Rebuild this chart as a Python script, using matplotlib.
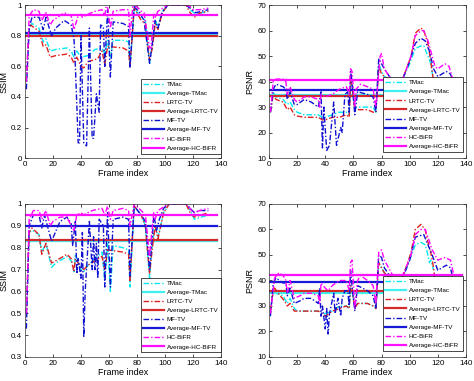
import matplotlib.pyplot as plt

plt.rcParams['font.family'] = ['Liberation Sans', 'DejaVu Sans']

# ---- panel (a): SSIM, top left ----
a_tmac_x = [1, 3, 5, 10, 13, 15, 18, 22, 30, 33, 35, 37, 40, 45, 50, 55, 57, 59, 61, 63, 70, 74, 75, 78, 83, 86, 89, 91, 93, 95, 98, 102, 115, 118, 122, 131]
a_tmac_y = [0.5, 0.85, 0.88, 0.85, 0.76, 0.78, 0.70, 0.71, 0.72, 0.70, 0.66, 0.70, 0.66, 0.67, 0.71, 0.72, 0.68, 0.77, 0.66, 0.77, 0.77, 0.76, 0.60, 0.98, 0.92, 0.90, 0.62, 0.75, 0.90, 0.86, 0.96, 1.0, 1.0, 0.97, 0.94, 0.96]
a_lrtc_x = [1, 3, 4, 10, 13, 15, 18, 22, 30, 33, 35, 37, 40, 42, 45, 52, 55, 57, 59, 70, 74, 75, 78, 83, 86, 89, 91, 93, 95, 98, 102, 115, 118, 121, 125, 131]
a_lrtc_y = [0.5, 0.85, 0.87, 0.83, 0.73, 0.74, 0.66, 0.67, 0.68, 0.66, 0.62, 0.66, 0.60, 0.59, 0.63, 0.65, 0.70, 0.61, 0.73, 0.72, 0.70, 0.60, 0.98, 0.90, 0.88, 0.64, 0.72, 0.88, 0.84, 0.95, 1.0, 1.0, 0.95, 0.92, 0.95, 0.96]
a_mf_x = [1, 3, 5, 10, 13, 15, 19, 22, 28, 33, 35, 36, 38, 39, 40, 42, 44, 46, 48, 49, 51, 53, 54, 56, 57, 59, 61, 63, 70, 74, 75, 78, 82, 85, 89, 91, 93, 95, 98, 102, 115, 118, 122, 126, 131]
a_mf_y = [0.45, 0.85, 0.92, 0.92, 0.84, 0.92, 0.80, 0.85, 0.90, 0.87, 0.78, 0.60, 0.10, 0.10, 0.80, 0.10, 0.08, 0.85, 0.13, 0.13, 0.42, 0.30, 0.87, 0.86, 0.60, 0.97, 0.53, 0.89, 0.88, 0.86, 0.59, 0.99, 0.95, 0.90, 0.62, 0.75, 0.90, 0.85, 0.95, 1.0, 1.0, 0.98, 0.95, 0.96, 0.97]
a_hc_x = [1, 3, 6, 10, 12, 15, 18, 20, 28, 33, 35, 38, 40, 41, 45, 50, 55, 57, 58, 59, 61, 63, 70, 74, 75, 77, 80, 83, 85, 89, 90, 92, 93, 95, 100, 102, 115, 118, 120, 125, 131]
a_hc_y = [0.5, 0.93, 0.97, 0.96, 0.90, 0.95, 0.87, 0.90, 0.95, 0.93, 0.84, 0.93, 0.94, 0.92, 0.94, 0.96, 0.97, 0.93, 0.99, 0.99, 0.85, 0.96, 0.97, 0.97, 0.80, 0.99, 0.99, 0.96, 0.95, 0.72, 0.72, 0.94, 0.92, 0.96, 0.99, 1.0, 1.0, 0.99, 0.97, 0.97, 0.98]
a_avg = [0.81, 0.795, 0.82, 0.935]  # TMac, LRTC-TV, MF-TV, HC-BiFR

# ---- panel (b): PSNR, top right ----
b_tmac_x = [1, 3, 5, 10, 13, 15, 18, 20, 25, 30, 35, 38, 40, 45, 50, 55, 57, 58, 59, 61, 63, 70, 74, 76, 78, 80, 82, 88, 95, 100, 104, 108, 110, 113, 115, 117]
b_tmac_y = [28, 36, 34, 33, 31, 32, 29, 28, 27, 27, 27, 26, 26, 27, 28, 28, 27, 42, 38, 30, 30, 30, 30, 28, 47, 44, 42, 40, 41, 47, 53, 54, 54, 50, 47, 40]
b_lrtc_x = [1, 3, 5, 10, 13, 15, 18, 20, 25, 30, 35, 38, 40, 45, 50, 55, 57, 58, 59, 61, 65, 70, 74, 76, 78, 80, 82, 88, 95, 101, 104, 108, 110, 113, 115, 117]
b_lrtc_y = [28, 35, 33, 32, 29, 30, 27, 26.5, 26, 26, 26, 25, 25, 26, 26, 27, 26, 40, 38, 29, 29, 29, 28, 28, 46, 43, 42, 40, 41, 50, 59, 61, 60, 55, 48, 40]
b_mf_x = [1, 3, 5, 10, 12, 13, 15, 18, 20, 25, 30, 35, 37, 38, 39, 41, 43, 46, 48, 51, 52, 54, 56, 57, 58, 59, 61, 63, 70, 74, 76, 78, 80, 82, 88, 95, 100, 104, 108, 111, 114, 117, 120, 126, 129, 131]
b_mf_y = [28, 37, 39, 38, 37, 33, 36, 31, 31, 33, 32, 30, 36, 14, 30, 13, 15, 32, 15, 22, 20, 35, 36, 28, 44, 40, 27, 36, 35, 34, 28, 49, 47, 45, 40, 41, 48, 55, 57, 56, 52, 45, 42, 44, 43, 40]
b_hc_x = [1, 3, 5, 10, 12, 13, 15, 18, 20, 25, 30, 35, 36, 37, 40, 45, 50, 55, 57, 58, 59, 61, 62, 65, 70, 74, 76, 79, 80, 82, 88, 95, 101, 104, 108, 110, 113, 115, 118, 120, 125, 128, 131]
b_hc_y = [28, 40, 41, 41, 40, 35, 38, 33, 32, 34, 34, 33, 30, 35, 34, 35, 37, 38, 35, 45, 44, 30, 37, 39, 38, 37, 30, 50, 51, 45, 40, 41, 50, 58, 60, 60, 56, 52, 46, 45, 47, 46, 40]
b_avg = [34.6, 34.5, 36.7, 40.8]

# ---- panel (c): SSIM, bottom left ----
c_tmac_x = [1, 3, 5, 10, 12, 15, 19, 22, 30, 33, 35, 36, 40, 42, 45, 50, 55, 57, 59, 61, 63, 70, 74, 75, 78, 83, 86, 89, 91, 93, 95, 99, 103, 115, 118, 121, 131]
c_tmac_y = [0.5, 0.87, 0.88, 0.86, 0.78, 0.82, 0.71, 0.73, 0.76, 0.74, 0.69, 0.77, 0.70, 0.69, 0.72, 0.75, 0.78, 0.65, 0.82, 0.60, 0.81, 0.80, 0.79, 0.62, 0.99, 0.95, 0.90, 0.66, 0.83, 0.90, 0.85, 0.96, 1.0, 1.0, 0.97, 0.93, 0.95]
c_lrtc_x = [1, 3, 5, 10, 12, 15, 19, 22, 30, 33, 35, 36, 40, 42, 45, 50, 55, 57, 59, 70, 74, 75, 78, 83, 86, 89, 91, 93, 95, 99, 103, 115, 118, 121, 131]
c_lrtc_y = [0.5, 0.87, 0.89, 0.86, 0.77, 0.82, 0.73, 0.74, 0.77, 0.75, 0.69, 0.75, 0.71, 0.70, 0.72, 0.74, 0.76, 0.70, 0.79, 0.78, 0.77, 0.65, 0.99, 0.95, 0.90, 0.68, 0.80, 0.90, 0.84, 0.96, 1.0, 1.0, 0.96, 0.94, 0.96]
c_mf_x = [1, 3, 6, 10, 12, 14, 16, 19, 21, 25, 30, 33, 34, 36, 37, 38, 40, 41, 42, 43, 46, 48, 49, 50, 51, 52, 53, 56, 57, 59, 61, 63, 70, 74, 75, 78, 83, 86, 89, 91, 92, 94, 96, 99, 102, 115, 118, 121, 125, 131]
c_mf_y = [0.43, 0.90, 0.95, 0.95, 0.89, 0.95, 0.90, 0.83, 0.86, 0.92, 0.94, 0.91, 0.81, 0.92, 0.68, 0.75, 0.66, 0.87, 0.39, 0.60, 0.92, 0.70, 0.85, 0.70, 0.82, 0.66, 0.93, 0.90, 0.62, 0.96, 0.62, 0.93, 0.94, 0.93, 0.67, 0.99, 0.95, 0.92, 0.70, 0.85, 0.95, 0.88, 0.93, 0.98, 1.0, 1.0, 0.98, 0.96, 0.97, 0.97]
c_hc_x = [1, 3, 6, 10, 12, 15, 18, 20, 25, 30, 33, 35, 37, 40, 42, 48, 55, 57, 59, 61, 63, 70, 74, 75, 78, 83, 86, 89, 91, 92, 93, 95, 100, 102, 115, 118, 120, 125, 131]
c_hc_y = [0.5, 0.93, 0.97, 0.97, 0.93, 0.97, 0.90, 0.92, 0.94, 0.94, 0.90, 0.88, 0.95, 0.96, 0.95, 0.97, 0.98, 0.95, 0.99, 0.93, 0.97, 0.98, 0.97, 0.90, 1.0, 0.97, 0.95, 0.76, 0.90, 0.96, 0.93, 0.97, 0.99, 1.0, 1.0, 0.98, 0.96, 0.97, 0.98]
c_avg = [0.83, 0.833, 0.90, 0.95]

# ---- panel (d): PSNR, bottom right ----
d_tmac_x = [1, 3, 5, 10, 13, 15, 18, 20, 25, 30, 35, 38, 40, 45, 50, 55, 57, 58, 59, 61, 63, 70, 74, 76, 78, 80, 82, 88, 95, 100, 104, 108, 111, 113, 114, 115, 117]
d_tmac_y = [28, 36, 35, 34, 31, 33, 29, 28, 28, 28, 28, 27, 27, 28, 30, 30, 29, 37, 36, 30, 31, 31, 30, 29, 47, 45, 43, 40, 41, 48, 54, 55, 54, 50, 47, 48, 44]
d_lrtc_x = [1, 3, 4, 8, 11, 13, 15, 18, 22, 30, 35, 38, 40, 45, 50, 55, 57, 58, 59, 61, 63, 70, 74, 76, 78, 80, 82, 88, 95, 101, 104, 108, 111, 113, 115, 117, 118]
d_lrtc_y = [28, 36, 37, 34, 32, 30, 31, 28, 28, 28, 28, 27, 26, 28, 29, 30, 29, 38, 37, 29, 31, 31, 30, 29, 47, 45, 43, 40, 41, 51, 60, 62, 60, 55, 51, 45, 40]
d_mf_x = [1, 3, 5, 10, 12, 13, 15, 18, 22, 25, 30, 35, 36, 37, 38, 40, 41, 42, 43, 46, 47, 49, 51, 52, 54, 56, 57, 58, 59, 61, 63, 70, 74, 76, 78, 80, 82, 88, 95, 100, 104, 110, 113, 116, 120, 126, 129, 131]
d_mf_y = [26, 39, 41, 39, 39, 34, 37, 31, 32, 33, 33, 31, 37, 26, 30, 21, 29, 19, 27, 35, 27, 33, 26, 33, 36, 36, 30, 44, 38, 28, 38, 36, 34, 29, 50, 49, 45, 40, 41, 48, 57, 58, 54, 50, 44, 46, 45, 40]
d_hc_x = [1, 4, 7, 10, 12, 13, 15, 18, 22, 25, 30, 35, 36, 37, 40, 42, 45, 50, 55, 57, 58, 59, 61, 63, 65, 70, 74, 76, 78, 80, 82, 88, 95, 101, 104, 108, 111, 113, 116, 120, 125, 129, 131]
d_hc_y = [27, 41, 43, 42, 40, 35, 40, 33, 34, 35, 35, 34, 31, 39, 37, 36, 38, 40, 40, 36, 47, 48, 29, 40, 42, 40, 38, 31, 51, 52, 48, 42, 42, 50, 58, 60, 60, 57, 52, 48, 49, 48, 43]
d_avg = [35.2, 36.0, 39.3, 42.3]

labels = ["TMac", "LRTC-TV", "MF-TV", "HC-BiFR"]
line_colors = ["#00e8f0", "#e02020", "#1010d0", "#ff00ff"]
avg_colors = ["#40f0f0", "#d42a2a", "#1818d8", "#ff10ff"]
dashdot = (0, (4, 1.5, 1, 1.5))

panels = [
    ([a_tmac_x, a_lrtc_x, a_mf_x, a_hc_x], [a_tmac_y, a_lrtc_y, a_mf_y, a_hc_y], a_avg, "SSIM", (0, 1), [0, 0.2, 0.4, 0.6, 0.8, 1]),
    ([b_tmac_x, b_lrtc_x, b_mf_x, b_hc_x], [b_tmac_y, b_lrtc_y, b_mf_y, b_hc_y], b_avg, "PSNR", (10, 70), [10, 20, 30, 40, 50, 60, 70]),
    ([c_tmac_x, c_lrtc_x, c_mf_x, c_hc_x], [c_tmac_y, c_lrtc_y, c_mf_y, c_hc_y], c_avg, "SSIM", (0.3, 1), [0.3, 0.4, 0.5, 0.6, 0.7, 0.8, 0.9, 1]),
    ([d_tmac_x, d_lrtc_x, d_mf_x, d_hc_x], [d_tmac_y, d_lrtc_y, d_mf_y, d_hc_y], d_avg, "PSNR", (10, 70), [10, 20, 30, 40, 50, 60, 70]),
]
positions = [[0.0527, 0.585, 0.4135, 0.4016], [0.5675, 0.585, 0.4155, 0.4016],
             [0.0527, 0.063, 0.4135, 0.4016], [0.5675, 0.063, 0.4155, 0.4016]]
legend_anchor = [(1.0, 0.03), (0.985, 0.04), (1.0, 0.03), (0.985, 0.04)]

fig = plt.figure(figsize=(4.74, 3.81), dpi=100)
for (xs, ys, avgs, ylabel, ylim, yticks), pos, anchor in zip(panels, positions, legend_anchor):
    ax = fig.add_axes(pos)
    for i in range(4):
        ax.plot(xs[i], ys[i], color=line_colors[i], linestyle=dashdot, lw=1.0, label=labels[i])
        ax.plot([1, 137], [avgs[i], avgs[i]], color=avg_colors[i], lw=1.6, label="Average-" + labels[i])
    ax.set_xlim(0, 140)
    ax.set_ylim(*ylim)
    ax.set_xticks(range(0, 141, 20))
    ax.set_yticks(yticks)
    ax.set_yticklabels([f"{t:g}" for t in yticks])
    ax.tick_params(direction="in", length=2.5, width=0.5, labelsize=5.8, top=True, right=True, pad=2)
    for s in ax.spines.values():
        s.set_linewidth(0.5)
        s.set_color("#333333")
    ax.set_ylabel(ylabel, fontsize=6.5, labelpad=2)
    ax.set_xlabel("Frame index", fontsize=6.5, labelpad=1)
    leg = ax.legend(loc="lower right", bbox_to_anchor=anchor, fontsize=4.5, handlelength=3.3,
                    labelspacing=0.6, borderpad=0.45, borderaxespad=0, handletextpad=0.4,
                    fancybox=False, framealpha=1)
    leg.get_frame().set_edgecolor("black")
    leg.get_frame().set_linewidth(0.5)

fig.savefig("out.png", dpi=100)
